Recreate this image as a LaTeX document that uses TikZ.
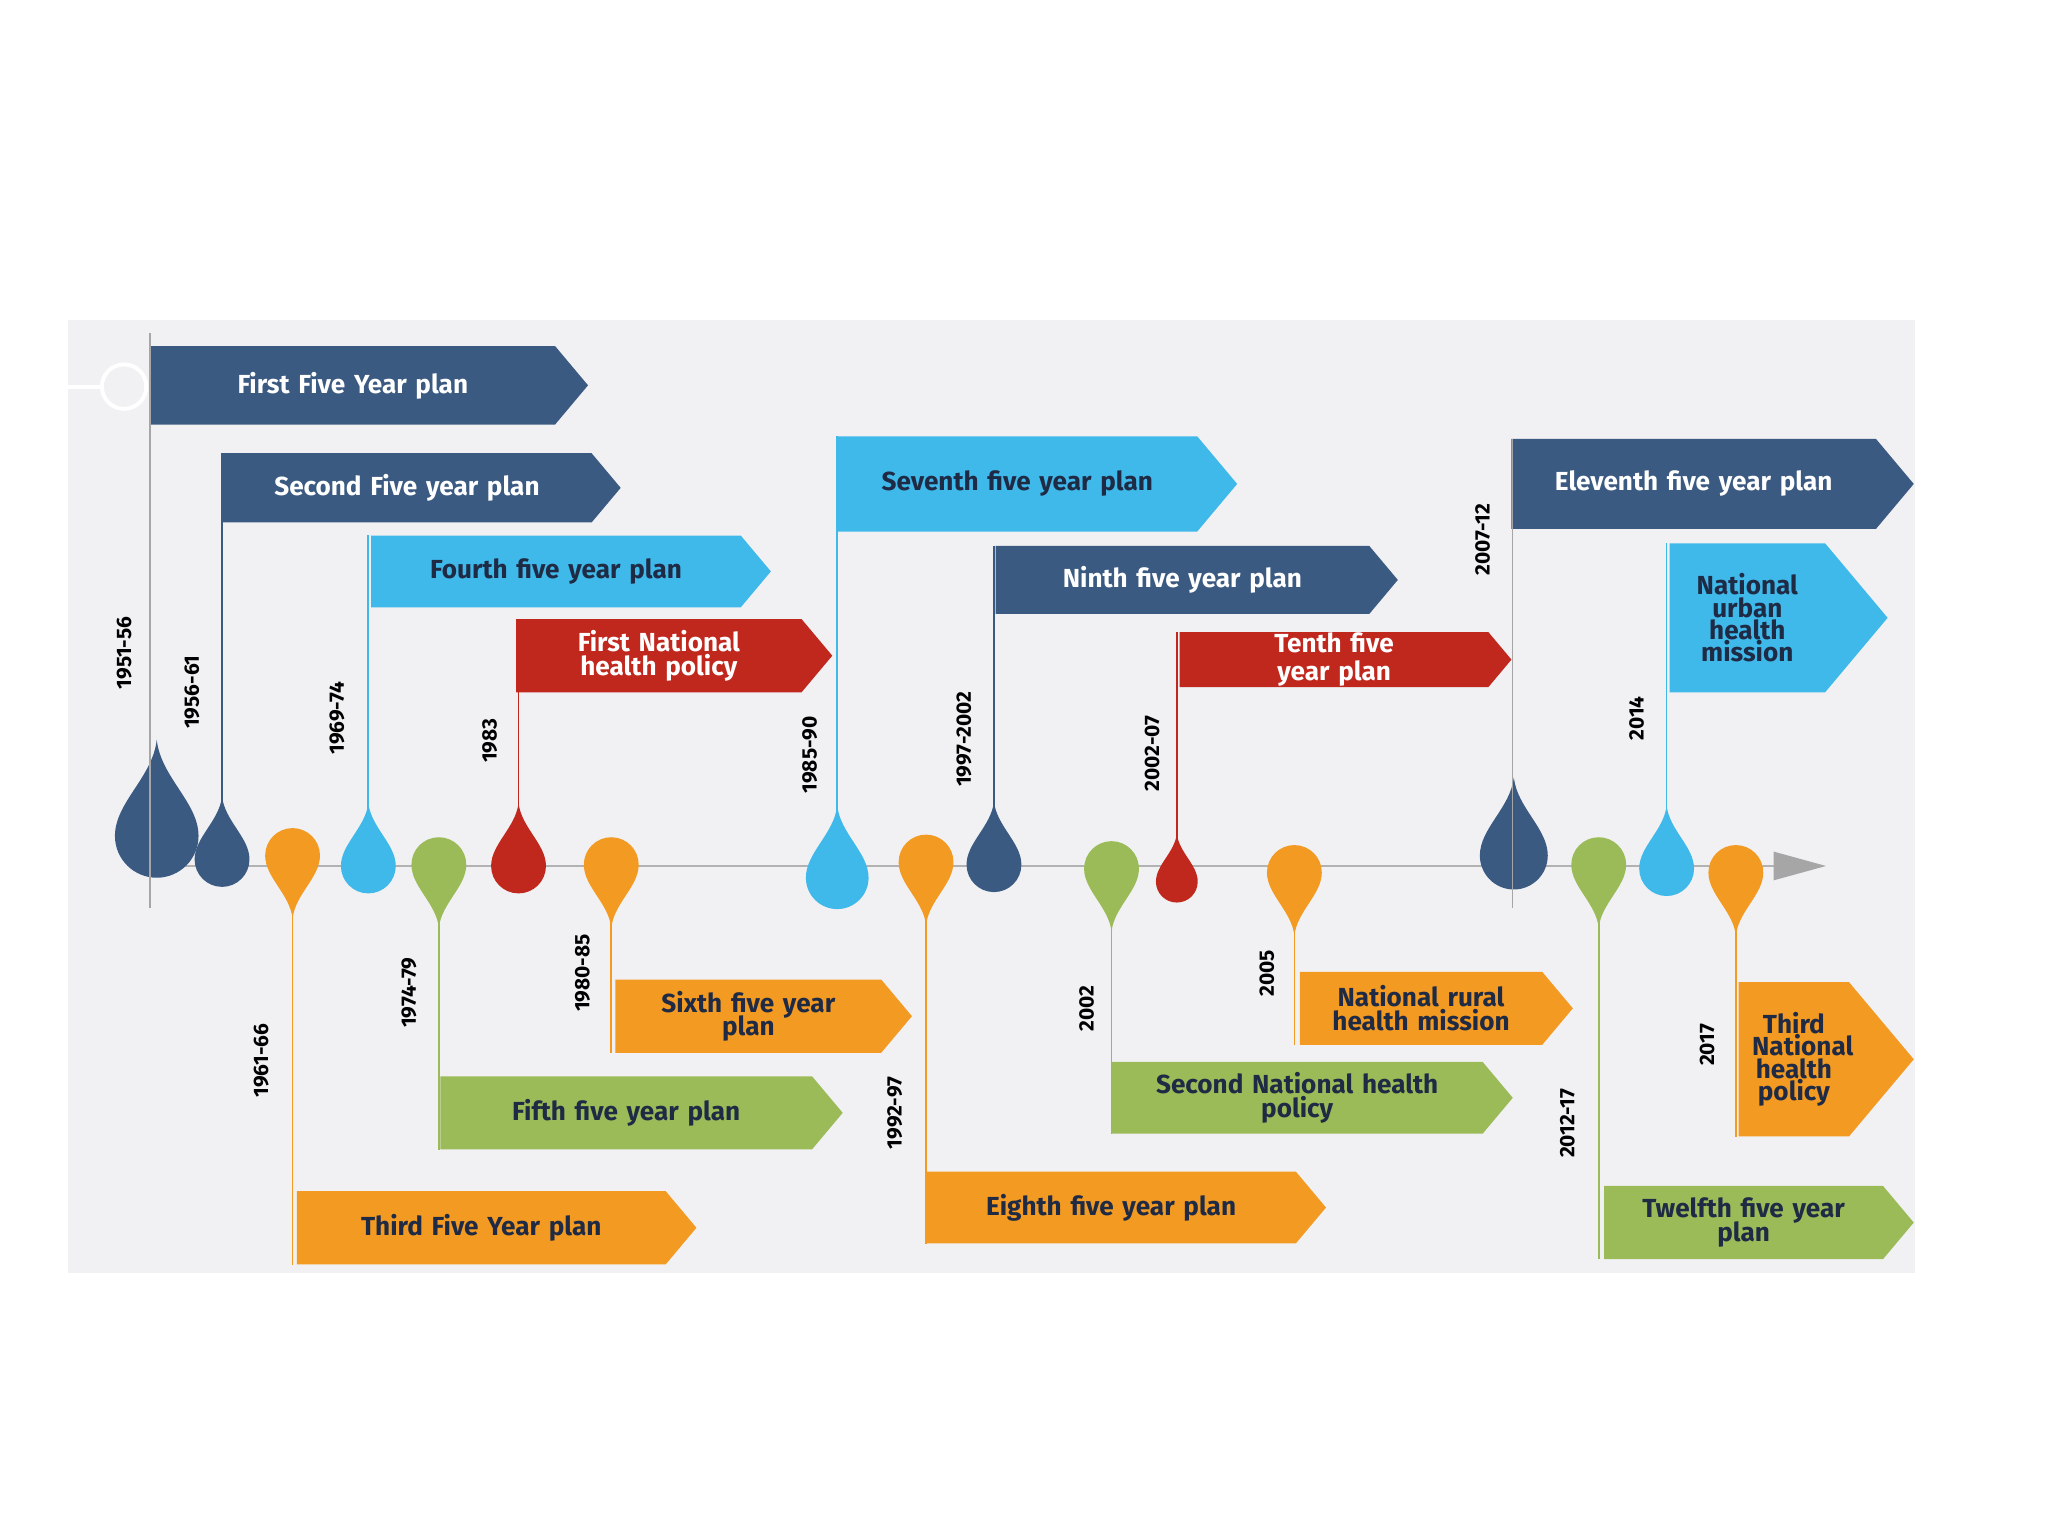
\documentclass[tikz,border=0pt]{standalone}
\usepackage{fontspec}
\setmainfont{Fira Sans}
\usetikzlibrary{shapes.symbols}
\definecolor{dblue}{HTML}{3B5A82}
\definecolor{lblue}{HTML}{3FB8EA}
\definecolor{orng}{HTML}{F39A22}
\definecolor{grn}{HTML}{9BBB59}
\definecolor{rd}{HTML}{C0281E}
\definecolor{dtext}{HTML}{1F2A44}
\definecolor{panel}{HTML}{F1F1F3}
\tikzset{
 x=1pt,y=1pt,
 flag/.style={signal, signal to=east, signal pointer angle=100, inner sep=0pt, align=center,
   font=\fontsize{20}{22}\selectfont\bfseries},
 yr/.style={rotate=90, font=\fontsize{16}{18}\selectfont\bfseries, text=black},
 conn/.style={draw=#1, line width=1.3pt},
 pics/drop/.style={code={\fill[pic actions] (0,2.3*#1) .. controls (0.1*#1,1.4*#1) and (#1,0.8*#1) .. (#1,0) arc (0:-180:#1) .. controls (-#1,0.8*#1) and (-0.1*#1,1.4*#1) .. cycle;}}
}
% name, color, textcolor, x1, x2, ytop, ybot, text
\newcommand\flg[8]{\node[flag, fill=#2, text=#3, minimum width={#5-#4}, minimum height={#7-#6}, text width={#5-#4-70}, anchor=west] (#1) at (#4,{-(#6+#7)/2}) {#8};}
% name, color, x, y, r, rot
\newcommand\drp[6]{\coordinate (#1) at (#3,-#4); \pic[fill=#2, rotate=#6] at (#1) {drop=#5};}
\begin{document}
\begin{tikzpicture}
\useasboundingbox (0,0) rectangle (1568,-1176);
\fill[white] (0,0) rectangle (1568,-1176);
\fill[panel] (52,-245) rectangle (1466,-975);
% timeline
\coordinate (t0) at (115,-663); \coordinate (t1) at (1360,-663);
\draw[gray!60, line width=1.2pt] (t0) -- (t1);
\fill[gray!70] (1358,-652) -- (1398,-663) -- (1358,-674) -- cycle;
% start ring
\coordinate (s0) at (52,-296);
\node[circle, draw=white, line width=3pt, minimum size=34pt, inner sep=0pt] (ring) at (95,-296) {};
\draw[white, line width=3pt] (s0) -- (ring);
% flags
\flg{f1}{dblue}{white}{115}{450}{265}{325}{First Five Year plan}
\flg{f2}{dblue}{white}{170}{475}{347}{400}{Second Five year plan}
\flg{f3}{orng}{dtext}{227}{533}{912}{968}{Third Five Year plan}
\flg{f4}{lblue}{dtext}{284}{590}{410}{465}{Fourth five year plan}
\flg{f5}{grn}{dtext}{337}{645}{824}{880}{Fifth five year plan}
\flg{f6}{rd}{white}{395}{637}{474}{530}{First National\\[-4pt]health policy}
\flg{f7}{orng}{dtext}{471}{698}{750}{806}{Sixth five year\\[-4pt]plan}
\flg{f8}{lblue}{dtext}{641}{947}{334}{407}{Seventh five year plan}
\flg{f9}{orng}{dtext}{709}{1015}{897}{952}{Eighth five year plan}
\flg{f10}{dblue}{white}{762}{1070}{418}{470}{Ninth five year plan}
\flg{f11}{grn}{dtext}{851}{1158}{813}{868}{Second National health\\[-4pt]policy}
\flg{f12}{rd}{white}{903}{1157}{484}{526}{Tenth five year plan}
\flg{f13}{orng}{dtext}{995}{1204}{744}{800}{National rural\\[-4pt]health mission}
\flg{f14}{dblue}{white}{1157}{1465}{336}{405}{Eleventh five year plan}
\flg{f15}{grn}{dtext}{1228}{1465}{908}{964}{Twelfth five year\\[-4pt]plan}
\flg{f16}{lblue}{dtext}{1278}{1445}{416}{530}{National\\[-5pt]urban\\[-5pt]health\\[-5pt]mission}
\flg{f17}{orng}{dtext}{1331}{1465}{752}{870}{Third\\[-5pt]National\\[-5pt]health\\[-5pt]policy}
% drops
\drp{d1}{dblue}{120}{640}{32}{0}
\drp{d2}{dblue}{170}{658}{21}{0}
\drp{d3}{orng}{224}{655}{21}{180}
\drp{d4}{lblue}{282}{663}{21}{0}
\drp{d5}{grn}{336}{662}{21}{180}
\drp{d6}{rd}{397}{663}{21}{0}
\drp{d7}{orng}{468}{662}{21}{180}
\drp{d8}{lblue}{641}{672}{24}{0}
\drp{d9}{orng}{709}{660}{21}{180}
\drp{d10}{dblue}{761}{662}{21}{0}
\drp{d11}{grn}{851}{665}{21}{180}
\drp{d12}{rd}{901}{675}{16}{0}
\drp{d13}{orng}{991}{668}{21}{180}
\drp{d14}{dblue}{1159}{655}{26}{0}
\drp{d15}{grn}{1224}{662}{21}{180}
\drp{d16}{lblue}{1276}{665}{21}{0}
\drp{d17}{orng}{1329}{668}{21}{180}
% connectors
\coordinate (b1) at (115,-695); \coordinate (b14) at (1158,-695);
\draw[conn=gray!70] (b1) -- (b1 |- 0,-255);
\draw[conn=dblue] (d2) -- (d2 |- f2.north);
\draw[conn=orng] (d3) -- (d3 |- f3.south);
\draw[conn=lblue] (d4) -- (d4 |- f4.north);
\draw[conn=grn] (d5) -- (d5 |- f5.south);
\draw[conn=rd] (d6) -- (d6 |- f6.north);
\draw[conn=orng] (d7) -- (d7 |- f7.south);
\draw[conn=lblue] (d8) -- (d8 |- f8.north);
\draw[conn=orng] (d9) -- (d9 |- f9.south);
\draw[conn=dblue] (d10) -- (d10 |- f10.north);
\draw[conn=grn] (d11) -- (d11 |- f11.south);
\draw[conn=rd] (d12) -- (d12 |- f12.north);
\draw[conn=orng] (d13) -- (d13 |- f13.south);
\draw[conn=gray!70] (b14) -- (b14 |- f14.north);
\draw[conn=grn] (d15) -- (d15 |- f15.south);
\draw[conn=lblue] (d16) -- (d16 |- f16.north);
\draw[conn=orng] (d17) -- (d17 |- f17.south);
% year labels
\node[yr] (l1) at (95,-500) {1951-56};
\node[yr] (l2) at (147,-530) {1956-61};
\node[yr] (l3) at (200,-812) {1961-66};
\node[yr] (l4) at (258,-550) {1969-74};
\node[yr] (l5) at (313,-760) {1974-79};
\node[yr] (l6) at (375,-567) {1983};
\node[yr] (l7) at (446,-745) {1980-85};
\node[yr] (l8) at (620,-578) {1985-90};
\node[yr] (l9) at (685,-852) {1992-97};
\node[yr] (l10) at (738,-566) {1997-2002};
\node[yr] (l11) at (832,-772) {2002};
\node[yr] (l12) at (882,-577) {2002-07};
\node[yr] (l13) at (970,-745) {2005};
\node[yr] (l14) at (1135,-413) {2007-12};
\node[yr] (l15) at (1200,-860) {2012-17};
\node[yr] (l16) at (1253,-550) {2014};
\node[yr] (l17) at (1307,-800) {2017};
\end{tikzpicture}
\end{document}
